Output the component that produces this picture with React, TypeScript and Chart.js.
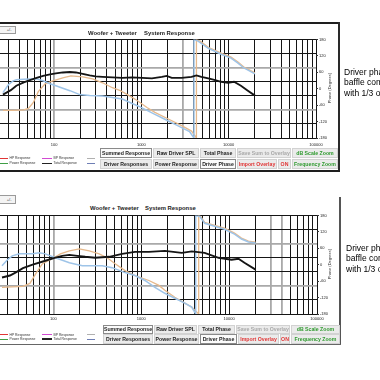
import React, { useEffect, useRef } from 'react';
import { Chart, registerables } from 'chart.js';
Chart.register(...registerables);

// ---------- data ----------
const X_GRID = [20, 30, 40, 50, 60, 70, 80, 90, 100, 200, 300, 400, 500, 600, 700, 800, 900, 1000, 2000, 3000, 4000, 5000, 6000, 7000, 8000, 9000, 10000, 20000, 30000, 40000, 50000, 60000, 70000, 80000, 90000, 100000];
const X_LABELED = [100, 1000, 10000, 100000];
const PHASE_TICK_STEP = 60;
const A_GRAY_GRID = [100, 3000];
const B_GRAY_GRID = [100, 30000, 40000];

// Upper screenshot
const A_TOTAL_FREQ = [26, 32, 37, 45, 54, 63, 75, 90, 105, 126, 152, 178, 213, 256, 299, 359, 466, 605, 785, 1018, 1322, 1716, 1954, 2227, 2891, 3751, 4274, 4869, 5844, 6833, 8200, 9845, 11514, 13816, 16587, 20000];
const A_TOTAL_PHASE = [-21.6, -5.4, 10.8, 23.4, 32.4, 39.6, 46.8, 52.2, 55.8, 59.4, 61.2, 59.4, 54, 48.6, 45, 43.2, 41.4, 39.6, 41.4, 39.6, 37.8, 43.2, 46.8, 39.6, 39.6, 43.2, 48.6, 43.2, 37.8, 32.4, 25.2, 21.6, 25.2, 10.8, -7.2, -25.2];

const A_BLUE_FREQ = [26, 30, 34, 37, 45, 63, 75, 90, 105, 126, 152, 197, 256, 359, 466, 605, 785, 942, 1160, 1429, 1716, 2059, 2537, 2891, 3560, 4005, 4005, 4503, 5844, 8200, 10646, 12780, 14940, 20000];
const A_BLUE_PHASE = [-14.4, 14.4, 28.8, 32.4, 34.2, 36, 28.8, 18, 10.8, 1.8, -7.2, -21.6, -25.2, -27, -32.4, -37.8, -54, -64.8, -79.2, -93.6, -106.2, -118.8, -133.2, -142.2, -156.6, -180, 180, 172.8, 147.6, 126, 111.6, 93.6, 75.6, 54];

const A_ORANGE_FREQ = [26, 34, 45, 51, 58, 66, 79, 97, 126, 156, 213, 277, 359, 466, 574, 726, 894, 1160, 1429, 1954, 2891, 3751, 4274, 4274, 4744, 5844, 8200, 10646, 12780, 14940, 20000];
const A_ORANGE_PHASE = [-79.2, -79.2, -77.4, -72, -50.4, -10.8, 18, 28.8, 39.6, 46.8, 43.2, 36, 21.6, 3.6, -7.2, -25.2, -43.2, -68.4, -86.4, -108, -135, -154.8, -180, 180, 172.8, 151.2, 129.6, 115.2, 97.2, 79.2, 57.6];

// Lower screenshot
const B_TOTAL_FREQ = [26, 32, 37, 45, 58, 81, 103, 126, 152, 187, 230, 299, 431, 605, 848, 1222, 1855, 2891, 3751, 5265, 7586, 10646, 12780, 14940, 20000];
const B_TOTAL_PHASE = [-46.8, -39.6, -28.8, -12.6, 0, 14.4, 25.2, 32.4, 36, 32.4, 28.8, 25.2, 28.8, 39.6, 46.8, 46.8, 50.4, 43.2, 48.6, 43.2, 25.2, 18, 21.6, 7.2, -18];

const B_BLUE_FREQ = [26, 30, 34, 41, 58, 69, 81, 105, 152, 213, 359, 466, 654, 848, 1101, 1429, 1855, 2408, 3126, 3751, 4164, 4164, 4622, 5265, 6833, 8869, 11514, 13816, 16587, 20000];
const B_BLUE_PHASE = [-3.6, 18, 32.4, 39.6, 39.6, 43.2, 39.6, 25.2, 7.2, -3.6, -3.6, -10.8, -28.8, -39.6, -57.6, -82.8, -104.4, -122.4, -140.4, -154.8, -180, 180, 176.4, 151.2, 140.4, 129.6, 111.6, 93.6, 82.8, 79.2];

const B_ORANGE_FREQ = [26, 45, 54, 63, 75, 97, 120, 152, 197, 256, 332, 409, 504, 654, 848, 1222, 1587, 1855, 2408, 3126, 3751, 4503, 4503, 4744, 5265, 6833, 8869, 11514, 13816, 16587, 20000];
const B_ORANGE_PHASE = [-82.8, -79.2, -68.4, -32.4, 3.6, 21.6, 39.6, 50.4, 57.6, 50.4, 39.6, 25.2, 3.6, -21.6, -39.6, -57.6, -75.6, -93.6, -118.8, -140.4, -154.8, -180, 180, 176.4, 154.8, 144, 133.2, 115.2, 97.2, 86.4, 82.8];

const TITLE_LEFT = 'Woofer + Tweeter';
const TITLE_RIGHT = 'System Response';
const AXIS_TITLE = 'Phase (Degrees)';
const LEGEND_ROW1 = ['HP Response', 'BP Response'];
const LEGEND_ROW2 = ['Power Response', 'Total Response'];
const BUTTONS_ROW1 = ['Summed Response', 'Raw Driver SPL', 'Total Phase', 'Save Sum to Overlay', 'dB Scale Zoom'];
const BUTTONS_ROW2 = ['Driver Responses', 'Power Response', 'Driver Phase', 'Import Overlay', 'ON', 'Frequency Zoom'];
const NOTE_LINES = ['Driver phase,', 'baffle compensation', 'with 1/3 octave'];

const FONT = '"Liberation Sans", Arial, sans-serif';
const BLACK = '#151515';
const GRAYLINE = '#a9a9a9';
const BLUE = '#9ec4e8';
const ORANGE = '#e6b98c';

type Series = { freq: number[]; phase: number[]; color: string; width: number };

function PhaseChart({ top, left, series, labelPad, grayGrid }: { top: number; left: number; series: Series[]; labelPad: number; grayGrid: number[] }) {
  const ref = useRef<HTMLCanvasElement>(null);
  useEffect(() => {
    const isGray = (c: any) => c.tick && grayGrid.includes(c.tick.value);
    const isGrayH = (c: any) => c.tick && (c.tick.value === 2 || c.tick.value === 5);
    const chart = new Chart(ref.current as HTMLCanvasElement, {
      type: 'line',
      data: {
        datasets: series.map((s) => ({
          data: s.freq.map((f, i) => ({ x: f, y: s.phase[i] })),
          borderColor: s.color,
          borderWidth: s.width,
          pointRadius: 0,
          fill: false,
          tension: 0,
          xAxisID: 'x',
          yAxisID: 'yPhase',
        })),
      },
      options: {
        responsive: false,
        animation: false,
        devicePixelRatio: 1,
        events: [],
        layout: { padding: { top: 2, right: 2, left: 0, bottom: 0 } },
        plugins: { legend: { display: false }, tooltip: { enabled: false } },
        scales: {
          x: {
            type: 'logarithmic',
            position: 'bottom',
            min: 20,
            max: 100000,
            afterBuildTicks: (s: any) => {
              s.ticks = X_GRID.map((v) => ({ value: v }));
            },
            afterFit: (s: any) => {
              s.height = 12;
            },
            ticks: {
              autoSkip: false,
              maxRotation: 0,
              minRotation: 0,
              padding: labelPad,
              color: '#222',
              font: { size: 4, family: FONT },
              callback: (v: any) => (X_LABELED.includes(Number(v)) ? String(v) : ''),
            },
            grid: {
              color: (c: any) => (isGray(c) ? GRAYLINE : BLACK),
              lineWidth: (c: any) => (isGray(c) ? 1.8 : 1),
              drawTicks: false,
            },
            border: { display: false },
          },
          yDb: {
            type: 'linear',
            position: 'left',
            min: 0,
            max: 7,
            ticks: { display: false, stepSize: 1 },
            grid: {
              drawTicks: false,
              color: (c: any) => (isGrayH(c) ? GRAYLINE : BLACK),
              lineWidth: (c: any) => (isGrayH(c) ? 1.8 : 1),
            },
            border: { display: false },
            afterFit: (s: any) => {
              s.width = 0;
            },
          },
          yPhase: {
            type: 'linear',
            position: 'right',
            min: -180,
            max: 180,
            ticks: { stepSize: PHASE_TICK_STEP, padding: 1, color: '#222', font: { size: 4, family: FONT } },
            grid: { drawOnChartArea: false, drawTicks: true, tickLength: 2, color: '#333' },
            border: { display: false },
            afterFit: (s: any) => {
              s.width = 19;
            },
          },
        },
      } as any,
    });
    return () => chart.destroy();
  }, []);
  return (
    <canvas
      ref={ref}
      width={348}
      height={114}
      style={{ position: 'absolute', left, top: top - 2, width: 348, height: 114 }}
    />
  );
}

function Btn({ x1, x2, y, h, label, color, pressed }: { x1: number; x2: number; y: number; h: number; label: string; color: string; pressed?: boolean }) {
  return (
    <div
      style={{
        position: 'absolute',
        left: x1,
        top: y,
        width: x2 - x1,
        height: h,
        boxSizing: 'border-box',
        background: pressed ? '#fbfbfb' : '#ebebeb',
        border: pressed ? '1px solid #8a8a8a' : '1px solid #d2d2d2',
        color,
        fontSize: 5.2,
        fontWeight: 'bold',
        display: 'flex',
        alignItems: 'center',
        justifyContent: 'center',
        whiteSpace: 'nowrap',
        overflow: 'hidden',
      }}
    >
      {label}
    </div>
  );
}

function LegendLine({ x, y, w, color, t }: { x: number; y: number; w: number; color: string; t: number }) {
  return <div style={{ position: 'absolute', left: x, top: y - t / 2, width: w, height: t, background: color }} />;
}

function LegendText({ x, y, label }: { x: number; y: number; label: string }) {
  return (
    <div style={{ position: 'absolute', left: x, top: y - 2.2, fontSize: 3.4, lineHeight: '4.4px', color: '#333', whiteSpace: 'nowrap' }}>
      {label}
    </div>
  );
}

type PanelCfg = {
  plotTop: number;
  plotLeft: number;
  series: Series[];
  grayGrid: number[];
  labelPad: number;
  titleY: number;
  titleX1: number;
  titleX2: number;
  plusY: number;
  plusH: number;
  legY1: number;
  legY2: number;
  row1Y: number;
  row2Y: number;
  rowH: number;
  btnX: number[];
  btnX2: number[];
  noteX: number;
  noteY: number;
};

function Panel({ c }: { c: PanelCfg }) {
  const r1Colors = ['#222', '#222', '#222', '#a8a8a8', '#2f9a2f'];
  const r2Colors = ['#222', '#222', '#222', '#e03535', '#e03535', '#2f9a2f'];
  return (
    <>
      <PhaseChart top={c.plotTop} left={c.plotLeft} series={c.series} labelPad={c.labelPad} grayGrid={c.grayGrid} />
      <div
        style={{
          position: 'absolute',
          left: -4,
          top: c.plusY,
          width: 19.5,
          height: c.plusH,
          boxSizing: 'border-box',
          border: '1px solid #9a9a9a',
          background: '#f4f4f4',
          fontSize: 4,
          lineHeight: `${c.plusH - 2}px`,
          textAlign: 'right',
          paddingRight: 3,
          color: '#333',
        }}
      >
        {'+/-'}
      </div>
      <div style={{ position: 'absolute', left: c.titleX1, top: c.titleY - 4, fontSize: 5.9, lineHeight: '8px', fontWeight: 'bold', color: '#222', whiteSpace: 'nowrap' }}>
        {TITLE_LEFT}
      </div>
      <div style={{ position: 'absolute', left: c.titleX2, top: c.titleY - 4, fontSize: 5.9, lineHeight: '8px', fontWeight: 'bold', color: '#222', whiteSpace: 'nowrap' }}>
        {TITLE_RIGHT}
      </div>
      <div
        style={{
          position: 'absolute',
          left: 329,
          top: c.plotTop + 50,
          fontSize: 4,
          color: '#333',
          whiteSpace: 'nowrap',
          transform: 'translate(-50%, -50%) rotate(-90deg)',
        }}
      >
        {AXIS_TITLE}
      </div>
      {/* legend */}
      <LegendLine x={0} y={c.legY1} w={8} color="#e03535" t={1} />
      <LegendText x={9.5} y={c.legY1} label={LEGEND_ROW1[0]} />
      <LegendLine x={42} y={c.legY1} w={10} color="#d24ad2" t={1} />
      <LegendText x={53.5} y={c.legY1} label={LEGEND_ROW1[1]} />
      <LegendLine x={87} y={c.legY1} w={8} color="#b0b0b0" t={1} />
      <LegendLine x={0} y={c.legY2} w={8} color="#3f9f45" t={1} />
      <LegendText x={9.5} y={c.legY2} label={LEGEND_ROW2[0]} />
      <LegendLine x={42} y={c.legY2} w={10} color="#222" t={1.6} />
      <LegendText x={53.5} y={c.legY2} label={LEGEND_ROW2[1]} />
      <LegendLine x={87} y={c.legY2} w={8} color="#6f7fb5" t={1} />
      {/* buttons */}
      {BUTTONS_ROW1.map((b, i) => (
        <Btn key={'a' + i} x1={c.btnX[i]} x2={c.btnX[i + 1] - 1} y={c.row1Y} h={c.rowH} label={b} color={r1Colors[i]} pressed={i === 0} />
      ))}
      {BUTTONS_ROW2.map((b, i) => (
        <Btn key={'b' + i} x1={c.btnX2[i]} x2={c.btnX2[i + 1] - 1} y={c.row2Y} h={c.rowH} label={b} color={r2Colors[i]} pressed={i === 2} />
      ))}
      <div style={{ position: 'absolute', left: c.noteX, top: c.noteY, fontSize: 8.5, lineHeight: '10.5px', color: '#000', whiteSpace: 'nowrap' }}>
        {NOTE_LINES.map((l, i) => (
          <div key={i}>{l}</div>
        ))}
      </div>
    </>
  );
}

const TOP_SERIES: Series[] = [
  { freq: A_TOTAL_FREQ, phase: A_TOTAL_PHASE, color: BLACK, width: 1.9 },
  { freq: A_BLUE_FREQ, phase: A_BLUE_PHASE, color: BLUE, width: 1.5 },
  { freq: A_ORANGE_FREQ, phase: A_ORANGE_PHASE, color: ORANGE, width: 1.3 },
];
const BOTTOM_SERIES: Series[] = [
  { freq: B_TOTAL_FREQ, phase: B_TOTAL_PHASE, color: BLACK, width: 1.9 },
  { freq: B_BLUE_FREQ, phase: B_BLUE_PHASE, color: BLUE, width: 1.5 },
  { freq: B_ORANGE_FREQ, phase: B_ORANGE_PHASE, color: ORANGE, width: 1.3 },
];

export default function App() {
  const top: PanelCfg = {
    plotTop: 38,
    plotLeft: -11,
    series: TOP_SERIES,
    grayGrid: A_GRAY_GRID,
    labelPad: 4,
    titleY: 33,
    titleX1: 88,
    titleX2: 144,
    plusY: 25.5,
    plusH: 8,
    legY1: 158.3,
    legY2: 163.3,
    row1Y: 147.5,
    row2Y: 158.5,
    rowH: 10.5,
    btnX: [100, 153, 200, 237, 292, 339],
    btnX2: [100, 153, 200, 237, 278, 292, 339],
    noteX: 344,
    noteY: 66.5,
  };
  const bottom: PanelCfg = {
    plotTop: 214,
    plotLeft: -10,
    series: BOTTOM_SERIES,
    grayGrid: B_GRAY_GRID,
    labelPad: 2,
    titleY: 207.7,
    titleX1: 90,
    titleX2: 145,
    plusY: 195,
    plusH: 9,
    legY1: 334.8,
    legY2: 339,
    row1Y: 324.5,
    row2Y: 334,
    rowH: 9.5,
    btnX: [103, 154, 198, 236, 291, 341],
    btnX2: [103, 154, 200, 238, 280, 291, 341],
    noteX: 346,
    noteY: 242.5,
  };
  return (
    <div style={{ position: 'fixed', left: 0, top: 0, width: 380, height: 380, overflow: 'hidden', background: '#fff', fontFamily: FONT }}>
      {/* upper window frame */}
      <div style={{ position: 'absolute', left: 0, top: 22, width: 340, height: 2, background: '#1e1e1e' }} />
      <div style={{ position: 'absolute', left: 338, top: 22, width: 2, height: 150, background: '#2a2a2a' }} />
      <div style={{ position: 'absolute', left: 0, top: 170, width: 340, height: 2, background: '#1e1e1e' }} />
      {/* lower window frame */}
      <div style={{ position: 'absolute', left: 339, top: 197, width: 2, height: 148, background: '#555' }} />
      <div style={{ position: 'absolute', left: 0, top: 343.5, width: 341, height: 1.5, background: '#666' }} />
      <Panel c={top} />
      <Panel c={bottom} />
    </div>
  );
}
